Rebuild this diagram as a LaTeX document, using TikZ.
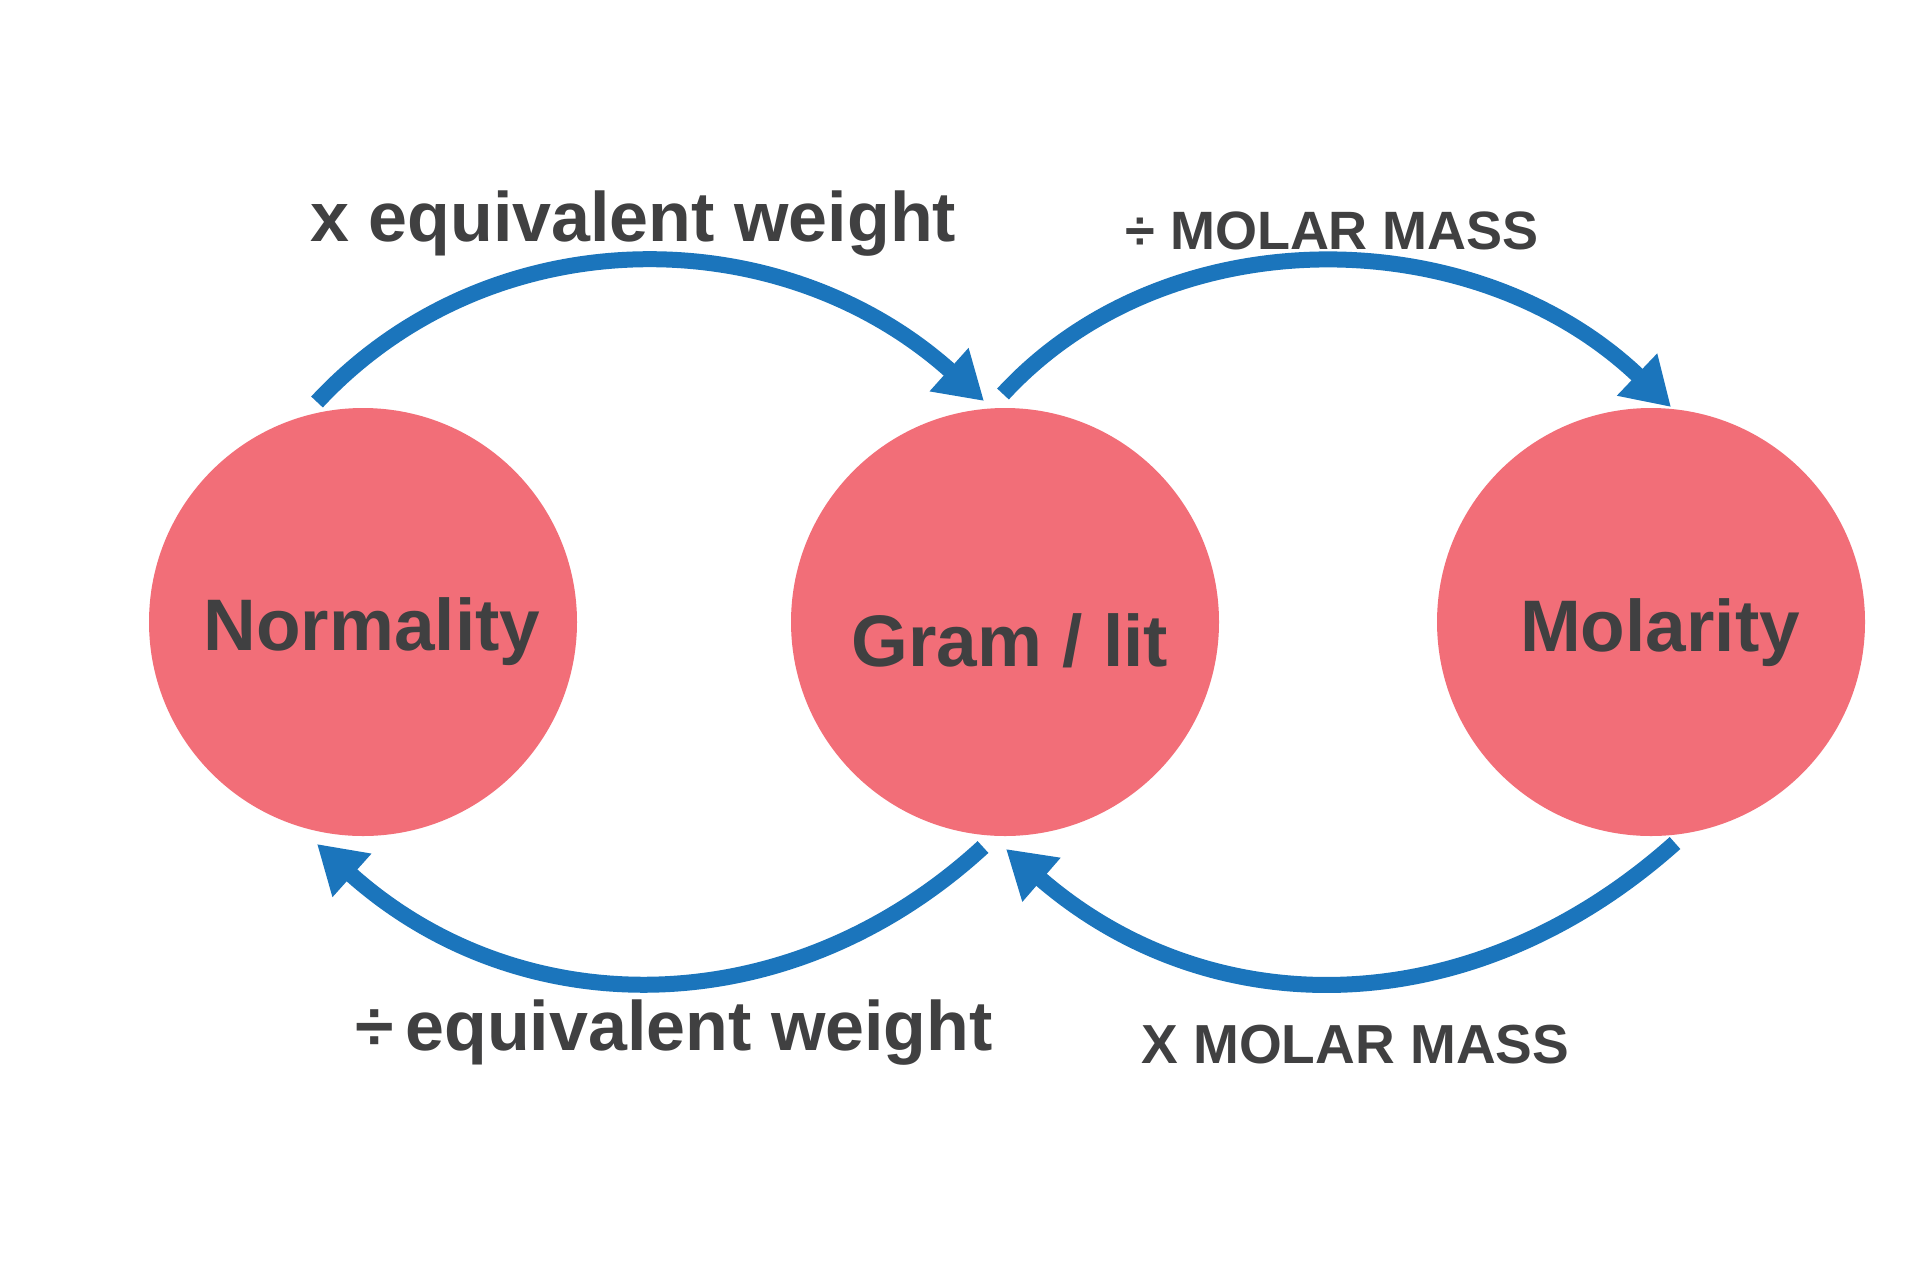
\documentclass[tikz,border=0pt]{standalone}
\usepackage{fontspec}
\setmainfont{Liberation Sans}
\usetikzlibrary{arrows.meta}
\definecolor{bubblefill}{RGB}{242,110,120}
\definecolor{arrowblue}{RGB}{27,117,188}
\definecolor{txtgrey}{RGB}{64,64,65}
\begin{document}
\begin{tikzpicture}[x=0.5pt,y=-0.5pt,
  bubble/.style={circle,fill=bubblefill,draw=none,minimum size=214pt,inner sep=0pt},
  ctext/.style={text=txtgrey,font=\fontsize{36.5pt}{40pt}\selectfont\bfseries,inner sep=0pt,anchor=base},
  biglab/.style={text=txtgrey,font=\fontsize{35pt}{40pt}\selectfont\bfseries,inner sep=0pt,anchor=base west},
  smalllab/.style={text=txtgrey,font=\fontsize{27pt}{30pt}\selectfont\bfseries,inner sep=0pt,anchor=base west},
  conn/.style={draw=arrowblue,line width=8pt,-{Triangle[length=23.5pt,width=27.5pt]},arrowblue}
]
\useasboundingbox (0,0) rectangle (1920,1280);
\fill[white] (0,0) rectangle (1920,1280);

% circles
\node[bubble] (N) at (363,622) {};
\node[bubble] (G) at (1005,622) {};
\node[bubble] (M) at (1651,622) {};

\node[ctext] (Nt) at (372,650) {Normality};
\node[ctext] (Gt) at (1010,666) {Gram / lit};
\node[ctext] (Mt) at (1660,651) {Molarity};

% connector end points
\coordinate (a1s) at ([shift={(-46,-220)}]N.center);
\coordinate (a1e) at ([shift={(-21,-221)}]G.center);
\coordinate (a2s) at ([shift={(-2,-228)}]G.center);
\coordinate (a2e) at ([shift={(20,-215)}]M.center);
\coordinate (a3s) at ([shift={(-22,225)}]G.center);
\coordinate (a3e) at ([shift={(-46,222)}]N.center);
\coordinate (a4s) at ([shift={(24,221)}]M.center);
\coordinate (a4e) at ([shift={(1,227)}]G.center);

\draw[conn] (a1s) .. controls (489,217) and (779,217) .. (a1e);
\draw[conn] (a2s) .. controls (1168,215) and (1475,220) .. (a2e);
\draw[conn] (a3s) .. controls (788,1026) and (520,1026) .. (a3e);
\draw[conn] (a4s) .. controls (1470,1026) and (1210,1026) .. (a4e);

% labels
\node[biglab] (l1) at (310,241) {x equivalent weight};
\node[smalllab] (l2) at (1125,249) {÷ MOLAR MASS};
\node[biglab] (l3) at (355,1050) {÷\,equivalent weight};
\node[smalllab,font=\fontsize{27.5pt}{30pt}\selectfont\bfseries] (l4) at (1141,1063) {X MOLAR MASS};
\end{tikzpicture}
\end{document}
